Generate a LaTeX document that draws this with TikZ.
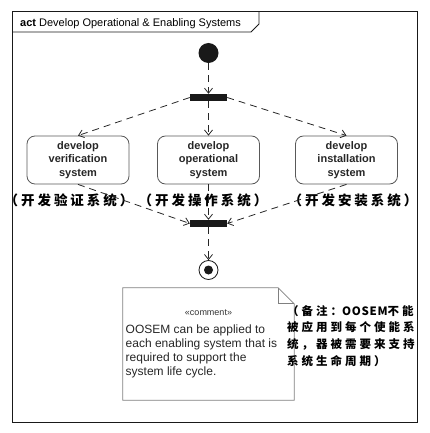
\documentclass[tikz,border=0pt]{standalone}
\usepackage{fontspec}
\setmainfont{Liberation Sans}
\newfontfamily\cjka{Noto Sans CJK SC}[LetterSpace=22]
\newfontfamily\cjkb{Noto Sans CJK SC}[LetterSpace=26]
\newfontfamily\cjkn{Noto Sans CJK SC}[LetterSpace=6]
\usetikzlibrary{arrows.meta}
\begin{document}
\begin{tikzpicture}[x=1pt,y=-1pt,
  action/.style={draw=black!65, line width=0.8pt, rounded corners=8pt, minimum width=102pt, minimum height=48pt, align=center, inner sep=0pt, text=black!85, font=\fontsize{11}{13.5}\selectfont\bfseries},
  bar/.style={fill=black!90, minimum width=37pt, minimum height=7pt, inner sep=0pt},
  flow/.style={draw=black!85, line width=0.8pt, dash pattern=on 7pt off 5pt, -{Straight Barb[length=5pt,width=8pt]}},
  cjklabel/.style={font=\cjka\bfseries\fontsize{13.5}{15}\selectfont, inner sep=0pt},
  cjknote/.style={font=\cjkb\bfseries\fontsize{11.5}{16.7}\selectfont, inner sep=0pt, align=left},
]
\useasboundingbox (0,0) rectangle (429,433);
% frame
\draw[line width=1pt, black!90] (12,12) rectangle (417,422);
\coordinate (tabA) at (12,32);
\coordinate (tabB) at (251,32);
\coordinate (tabC) at (259,24);
\coordinate (tabD) at (259,12);
\draw[line width=0.8pt, black!90] (tabA) -- (tabB) -- (tabC) -- (tabD);
\node[anchor=base west, inner sep=0pt, font=\fontsize{11}{13}\selectfont] (title) at (20,27) {\textbf{act} Develop Operational \& Enabling Systems};
% nodes
\node[circle, fill=black!90, minimum size=20pt, inner sep=0pt] (init) at (208.5,53) {};
\node[bar] (fork) at (208.5,97.5) {};
\node[action] (a1) at (78,160) {develop\\verification\\system};
\node[action] (a2) at (208.5,160) {develop\\operational\\system};
\node[action] (a3) at (346.5,160) {develop\\installation\\system};
\node[bar] (join) at (208.5,223.5) {};
\node[circle, draw=black!90, line width=0.8pt, minimum size=19pt, inner sep=0pt] (fin) at (208.5,270) {};
\node[circle, fill=black!90, minimum size=9pt, inner sep=0pt] (fincore) at (fin.center) {};
% chinese labels
\node[cjklabel] (l1) at (69,200) {（开发验证系统）};
\node[cjklabel] (l2) at (203,200) {（开发操作系统）};
\node[cjklabel] (l3) at (353,200) {（开发安装系统）};
% flows
\draw[flow] (init) -- (fork);
\draw[flow] (fork) -- (a2);
\draw[flow] (fork.west) -- (a1.north);
\draw[flow] (fork.east) -- (a3.north);
\draw[flow] (a1.south) -- (join.west);
\draw[flow] (a2) -- (join);
\draw[flow] (a3.south) -- (join.east);
\draw[flow] (join) -- (fin);
% comment note
\node[minimum width=171pt, minimum height=112pt, inner sep=0pt] (note) at (208.5,344) {};
\draw[black!50, line width=0.8pt] (note.north west) -- ([xshift=-16pt]note.north east) -- ([yshift=-16pt]note.north east) -- (note.south east) -- (note.south west) -- cycle;
\draw[black!50, line width=0.8pt] ([xshift=-16pt]note.north east) |- ([yshift=-16pt]note.north east);
\node[inner sep=0pt, font=\fontsize{9}{10}\selectfont, text=black!80] (stereo) at (208.5,313) {«comment»};
\node[anchor=north west, inner sep=0pt, align=left, font=\fontsize{12}{14}\selectfont, text=black!85] (body) at (125.5,325) {OOSEM can be applied to\\each enabling system that is\\required to support the\\system life cycle.};
\node[cjknote, anchor=north west] (cnote) at (287,305) {（备注：{\cjkn OOSEM}不能\\被应用到每个使能系\\统，器被需要来支持\\系统生命周期）};
\end{tikzpicture}
\end{document}
